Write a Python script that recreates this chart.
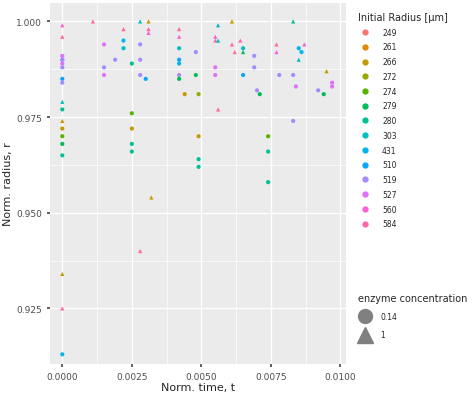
import numpy as np, pandas as pd, seaborn as sns, matplotlib
matplotlib.use("Agg")
import matplotlib.pyplot as plt
from matplotlib.lines import Line2D

radii = ["249","261","266","272","274","279","280","303","431","510","519","527","560","584"]
t = [0,0,0,0,0,0,0,0,0,0,0,0,0,0,0,0,0,0,0,
     0.0011,0.0015,0.0015,0.0015,0.0019,0.0022,0.0022,0.0022,0.0025,0.0025,0.0025,0.0025,0.0025,
     0.0028,0.0028,0.0028,0.0028,0.0030,0.0031,0.0031,0.0031,0.0032,0.0028,
     0.0042,0.0042,0.0042,0.0042,0.0042,0.0042,0.0042,0.0044,0.0048,0.0048,0.0049,0.0049,0.0049,0.0049,
     0.0055,0.0055,0.0056,0.0056,0.0055,0.0055,0.0056,
     0.0061,0.0061,0.0065,0.0065,0.0064,0.0065,0.0062,0.0069,0.0069,0.0070,0.0071,
     0.0074,0.0074,0.0074,0.0077,0.0077,0.0078,0.0083,0.0083,0.0083,0.0084,0.0085,0.0085,0.0086,0.0087,
     0.0095,0.0092,0.0094,0.0097,0.0097]
r = [0.999,0.996,0.991,0.990,0.989,0.988,0.985,0.984,0.979,0.977,0.974,0.972,0.970,0.968,0.965,0.934,0.925,0.913,0.990,
     1.000,0.994,0.988,0.986,0.990,0.998,0.995,0.993,0.989,0.976,0.972,0.968,0.966,
     1.000,0.994,0.990,0.986,0.985,1.000,0.998,0.997,0.954,0.940,
     0.998,0.996,0.993,0.990,0.989,0.986,0.985,0.981,0.992,0.986,0.981,0.970,0.964,0.962,
     0.996,0.995,0.999,0.995,0.988,0.986,0.977,
     1.000,0.994,0.992,0.993,0.995,0.986,0.992,0.991,0.988,0.982,0.981,
     0.970,0.966,0.958,0.994,0.992,0.986,1.000,0.986,0.974,0.983,0.993,0.990,0.992,0.994,
     0.987,0.982,0.981,0.983,0.984]
rad = ["560","584","527","519","527","519","510","519","303","280","266","266","274","279","280","266","584","431","519",
       "584","527","519","527","519","584","431","303","280","274","266","280","280",
       "303","519","519","519","510","266","584","560","266","584",
       "584","560","303","510","431","519","279","266","519","279","272","266","280","280",
       "560","584","303","303","527","527","584",
       "266","584","279","303","584","510","584","519","519","519","279",
       "274","280","280","584","560","519","280","519","519","527","431","303","431","560",
       "266","519","279","527","527"]
enz = ["1","1","0.14","0.14","0.14","0.14","0.14","0.14","1","0.14","1","0.14","0.14","0.14","0.14","1","1","0.14","0.14",
       "1","0.14","0.14","0.14","0.14","1","0.14","0.14","0.14","0.14","0.14","0.14","0.14",
       "1","0.14","0.14","0.14","0.14","1","1","1","1","1",
       "1","1","0.14","0.14","0.14","0.14","0.14","0.14","0.14","0.14","0.14","0.14","0.14","0.14",
       "1","1","1","1","0.14","0.14","1",
       "1","1","1","0.14","1","0.14","1","0.14","0.14","0.14","0.14",
       "0.14","0.14","0.14","1","1","0.14","1","0.14","0.14","0.14","0.14","1","0.14","1",
       "1","0.14","0.14","0.14","0.14"]
n = min(len(t), len(r), len(rad), len(enz))
df = pd.DataFrame({"t": t[:n], "r": r[:n], "rad": rad[:n], "enz": enz[:n]})

def hcl_hex(h, c=100, l=65):
    hr = np.deg2rad(h); u = c*np.cos(hr); v = c*np.sin(hr)
    Y = ((l+16)/116)**3 if l > 8 else l/903.3
    Xn, Yn, Zn = 0.95047, 1.0, 1.08883
    un = 4*Xn/(Xn+15*Yn+3*Zn); vn = 9*Yn/(Xn+15*Yn+3*Zn)
    up = u/(13*l)+un; vp = v/(13*l)+vn
    X = Y*9*up/(4*vp); Z = Y*(12-3*up-20*vp)/(4*vp)
    M = np.array([[3.2406,-1.5372,-0.4986],[-0.9689,1.8758,0.0415],[0.0557,-0.2040,1.0570]])
    rgb = M @ np.array([X, Y, Z])
    rgb = np.where(rgb <= 0.0031308, 12.92*rgb, 1.055*np.clip(rgb,0,None)**(1/2.4)-0.055)
    return tuple(np.clip(rgb, 0, 1))

k = len(radii)
pal = {rv: hcl_hex(15 + 360*i/k) for i, rv in enumerate(radii)}

sns.set_theme(style="darkgrid", rc={"axes.facecolor": "#EBEBEB", "grid.color": "white"})
plt.rcParams["font.family"] = ["DejaVu Sans"]
fig = plt.figure(figsize=(4.74, 4.10), dpi=100)
ax = fig.add_axes([0.105, 0.11, 0.625, 0.88])
sns.scatterplot(data=df, x="t", y="r", hue="rad", style="enz", palette=pal,
                markers={"0.14": "o", "1": "^"}, hue_order=radii, style_order=["0.14", "1"],
                s=9, linewidth=0, ax=ax, legend=False)
ax.set_xlim(-0.00045, 0.0102)
ax.set_ylim(0.9105, 1.0048)
ax.set_xticks([0, 0.0025, 0.005, 0.0075, 0.01])
ax.set_xticklabels(["0.0000", "0.0025", "0.0050", "0.0075", "0.0100"])
ax.set_yticks([0.925, 0.95, 0.975, 1.0])
ax.set_yticklabels(["0.925", "0.950", "0.975", "1.000"])
ax.set_xticks([0.00125, 0.00375, 0.00625, 0.00875], minor=True)
ax.set_yticks([0.9375, 0.9625, 0.9875], minor=True)
ax.grid(which="major", color="white", linewidth=1.0)
ax.grid(which="minor", color="white", linewidth=0.5)
ax.tick_params(labelsize=6.5, colors="#4D4D4D", length=2, left=True, bottom=True)
ax.set_xlabel("Norm. time, t", fontsize=8, labelpad=1)
ax.set_ylabel("Norm. radius, r", fontsize=8, labelpad=2)
for s in ax.spines.values():
    s.set_visible(False)

h1 = [Line2D([], [], marker="o", linestyle="", color=pal[rv], markersize=3.5) for rv in radii]
fig.legend(h1, radii, title="Initial Radius [µm]", loc="upper left", bbox_to_anchor=(0.74, 0.985),
           frameon=False, fontsize=5.5, title_fontsize=7, labelspacing=0.75, handletextpad=1.2,
           alignment="left")
h2 = [Line2D([], [], marker="o", linestyle="", color="#808080", markersize=10),
      Line2D([], [], marker="^", linestyle="", color="#808080", markersize=11)]
fig.legend(h2, ["0.14", "1"], title="enzyme concentration", loc="upper left", bbox_to_anchor=(0.74, 0.30),
           frameon=False, fontsize=5.5, title_fontsize=7, labelspacing=1.2, handletextpad=1.0,
           alignment="left")
fig.savefig("out.png", dpi=100)
